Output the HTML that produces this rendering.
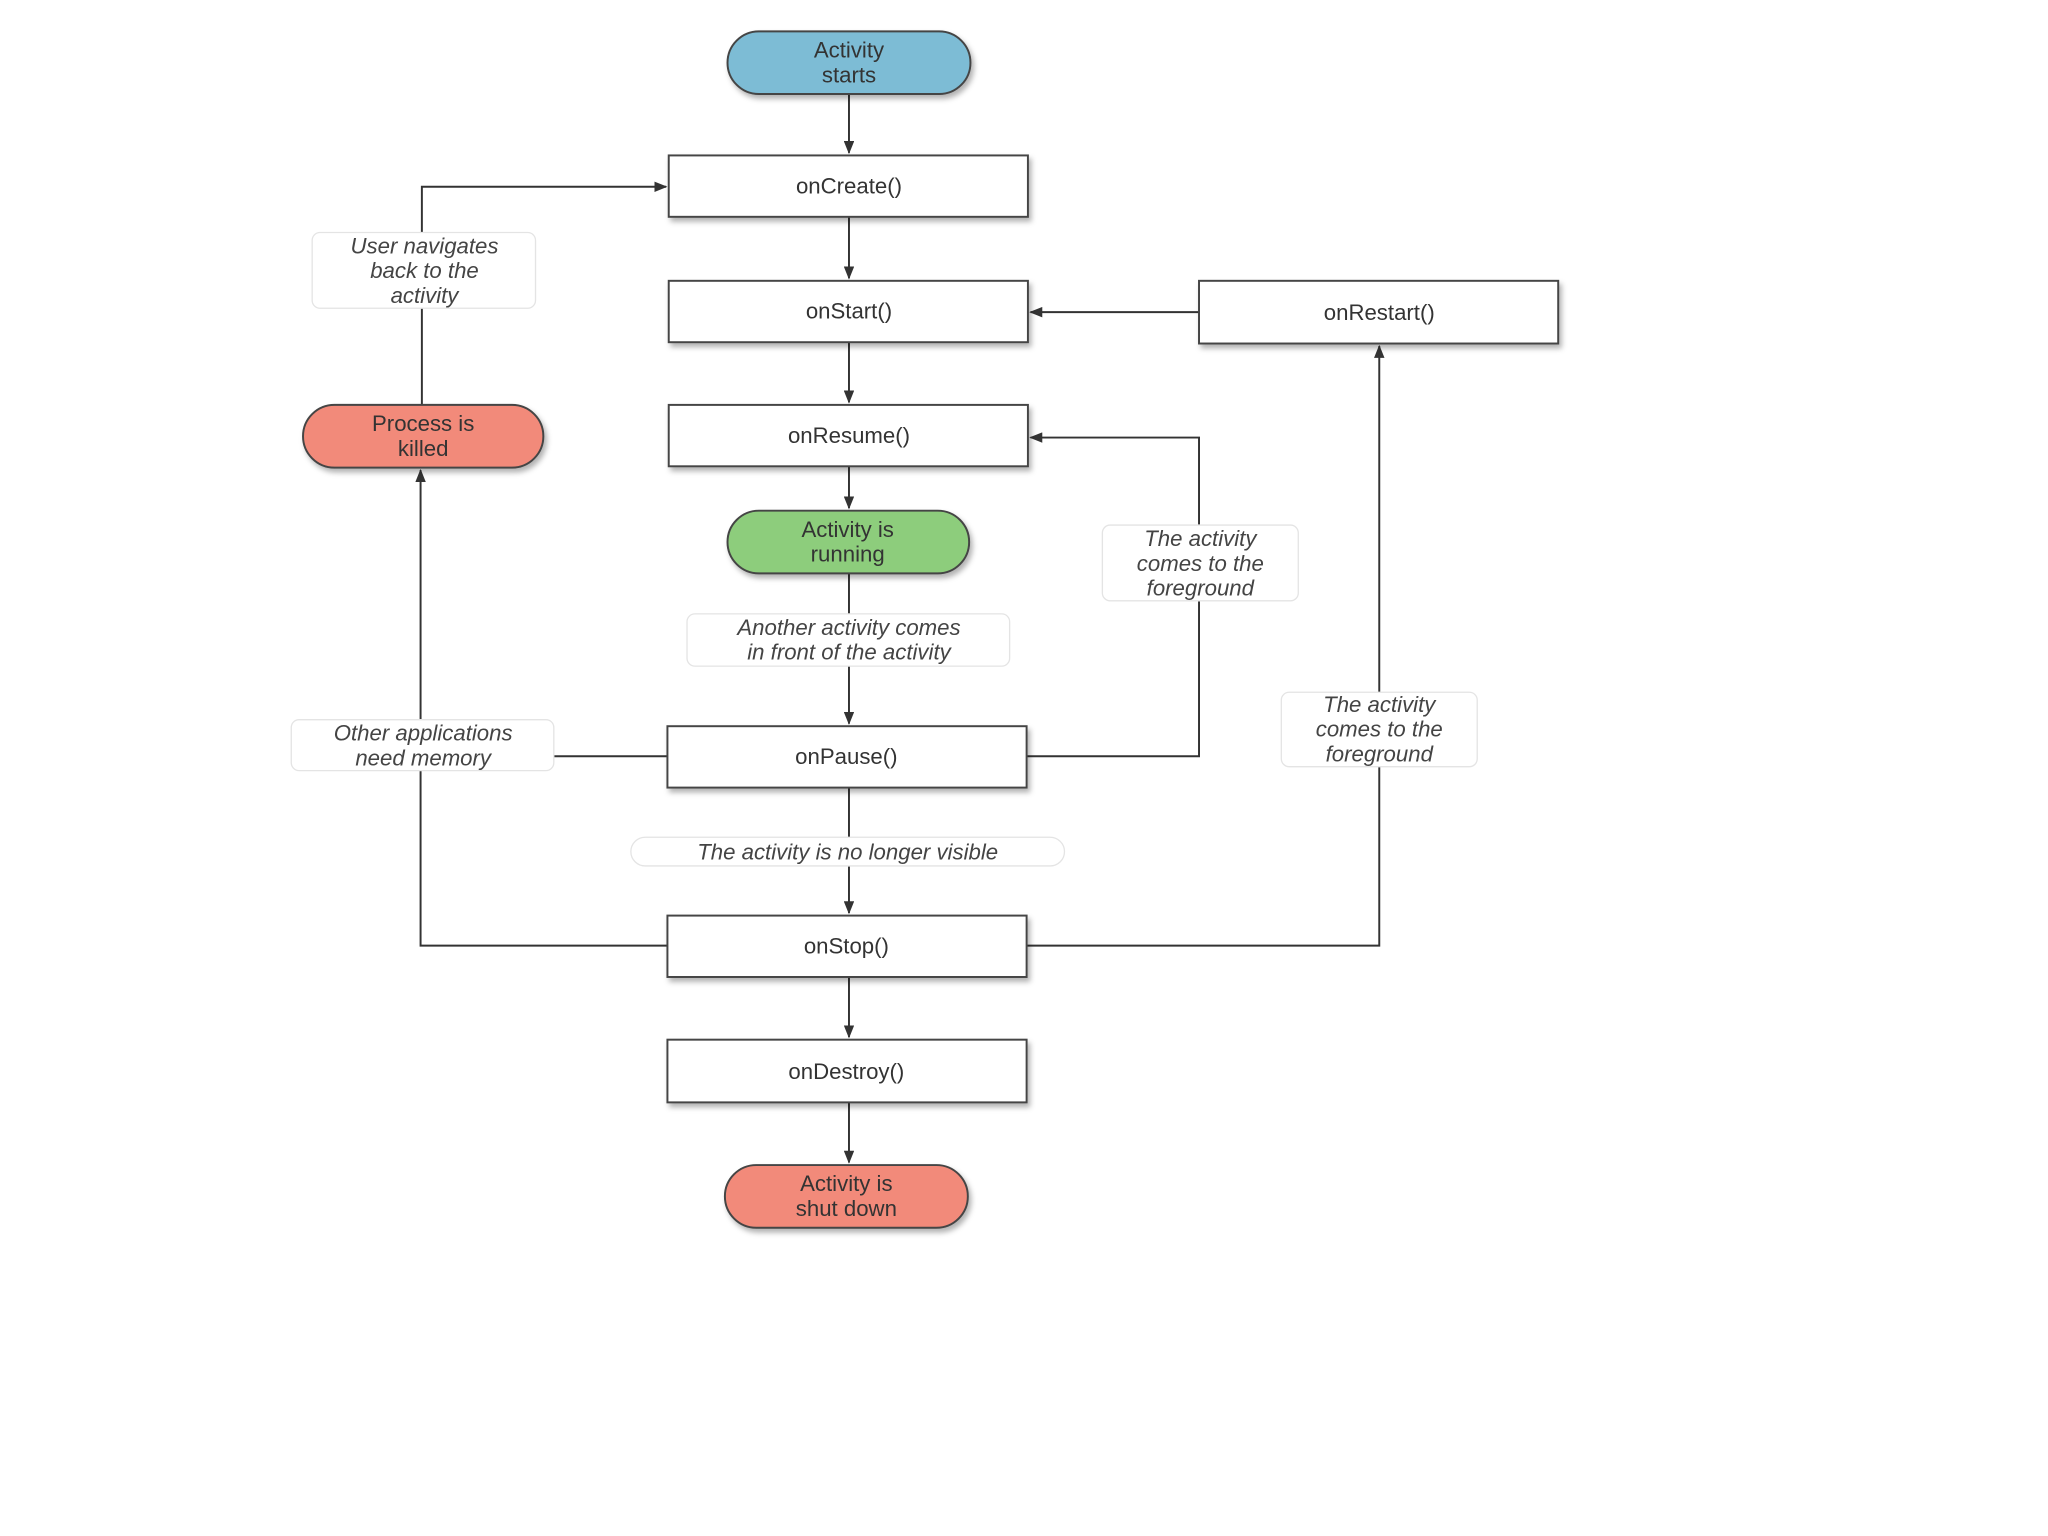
<!DOCTYPE html>
<html><head><meta charset="utf-8"><style>
html,body{margin:0;padding:0;background:#fff;}
svg{display:block;}
text{font-family:"Liberation Sans",sans-serif;font-size:17px;fill:#333;text-anchor:middle;}
.i{font-style:italic;fill:#444;}
</style></head><body>
<svg width="2048" height="1536" viewBox="0 0 1568 1176" xmlns="http://www.w3.org/2000/svg">
<defs>
<marker id="a" markerWidth="10" markerHeight="8" refX="9" refY="4" orient="auto" markerUnits="userSpaceOnUse">
<path d="M0,0 L10,4 L0,8 z" fill="#333"/></marker>
<filter id="s" x="-10%" y="-20%" width="130%" height="160%"><feDropShadow dx="2" dy="3" stdDeviation="2" flood-color="#000" flood-opacity="0.3"/></filter>
</defs>
<rect width="1568" height="1176" fill="#fff"/>
<g stroke="#333" stroke-width="1.5" fill="none">
<line x1="650" y1="72" x2="650" y2="117" marker-end="url(#a)"/>
<line x1="650" y1="166" x2="650" y2="213" marker-end="url(#a)"/>
<line x1="650" y1="262" x2="650" y2="308" marker-end="url(#a)"/>
<line x1="650" y1="357" x2="650" y2="389" marker-end="url(#a)"/>
<line x1="650" y1="439" x2="650" y2="554" marker-end="url(#a)"/>
<line x1="650" y1="603" x2="650" y2="699" marker-end="url(#a)"/>
<line x1="650" y1="748" x2="650" y2="794" marker-end="url(#a)"/>
<line x1="650" y1="844" x2="650" y2="890" marker-end="url(#a)"/>
<polyline points="323,310 323,143 510,143" marker-end="url(#a)"/>
<polyline points="511,724 322,724 322,360" marker-end="url(#a)"/>
<line x1="511" y1="579" x2="424" y2="579"/>
<line x1="918" y1="239" x2="789" y2="239" marker-end="url(#a)"/>
<polyline points="786,724 1056,724 1056,265" marker-end="url(#a)"/>
<polyline points="786,579 918,579 918,335 789,335" marker-end="url(#a)"/>
</g>
<g stroke="#444" stroke-width="1.5" filter="url(#s)">
<rect x="557" y="24" width="186" height="48" rx="24" fill="#7dbcd5"/>
<rect x="557" y="391" width="185" height="48" rx="24" fill="#8dcd7c"/>
<rect x="232" y="310" width="184" height="48" rx="24" fill="#f28a7a"/>
<rect x="555" y="892" width="186" height="48" rx="24" fill="#f28a7a"/>
<g fill="#fff">
<rect x="512" y="119" width="275" height="47"/>
<rect x="512" y="215" width="275" height="47"/>
<rect x="918" y="215" width="275" height="48"/>
<rect x="512" y="310" width="275" height="47"/>
<rect x="511" y="556" width="275" height="47"/>
<rect x="511" y="701" width="275" height="47"/>
<rect x="511" y="796" width="275" height="48"/>
</g></g>
<g fill="#fff" stroke="#e4e4e4" stroke-width="1">
<rect x="239" y="178" width="171" height="58" rx="6"/>
<rect x="844" y="402" width="150" height="58" rx="6"/>
<rect x="526" y="470" width="247" height="40" rx="6"/>
<rect x="223" y="551" width="201" height="39" rx="6"/>
<rect x="981" y="530" width="150" height="57" rx="6"/>
<rect x="483" y="641" width="332" height="22" rx="11"/>
</g>
<text x="650" y="44">Activity</text><text x="650" y="63">starts</text>
<text x="650" y="148">onCreate()</text>
<text x="650" y="244">onStart()</text>
<text x="1056" y="245">onRestart()</text>
<text x="650" y="339">onResume()</text>
<text x="649" y="411">Activity is</text><text x="649" y="430">running</text>
<text x="324" y="330">Process is</text><text x="324" y="349">killed</text>
<text x="648" y="585">onPause()</text>
<text x="648" y="730">onStop()</text>
<text x="648" y="826">onDestroy()</text>
<text x="648" y="912">Activity is</text><text x="648" y="931">shut down</text>
<g class="i"><text class="i" x="325" y="194">User navigates</text><text class="i" x="325" y="213">back to the</text><text class="i" x="325" y="232">activity</text>
<text class="i" x="919" y="418">The activity</text><text class="i" x="919" y="437">comes to the</text><text class="i" x="919" y="456">foreground</text>
<text class="i" x="650" y="486">Another activity comes</text><text class="i" x="650" y="505">in front of the activity</text>
<text class="i" x="324" y="567">Other applications</text><text class="i" x="324" y="586">need memory</text>
<text class="i" x="1056" y="545">The activity</text><text class="i" x="1056" y="564">comes to the</text><text class="i" x="1056" y="583">foreground</text>
<text class="i" x="649" y="658">The activity is no longer visible</text></g>
</svg>
</body></html>
